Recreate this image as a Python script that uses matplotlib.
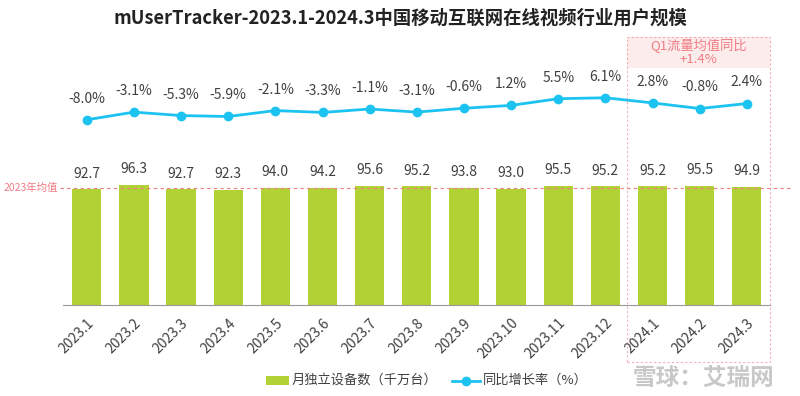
import numpy as np
import matplotlib
matplotlib.use("Agg")
import matplotlib.pyplot as plt
from matplotlib.patches import Rectangle

plt.rcParams['font.family'] = ['Noto Sans CJK SC', 'DejaVu Sans']

months = ['2023.1', '2023.2', '2023.3', '2023.4', '2023.5', '2023.6', '2023.7', '2023.8',
          '2023.9', '2023.10', '2023.11', '2023.12', '2024.1', '2024.2', '2024.3']
devices = [92.7, 96.3, 92.7, 92.3, 94.0, 94.2, 95.6, 95.2, 93.8, 93.0, 95.5, 95.2, 95.2, 95.5, 94.9]
growth = [-8.0, -3.1, -5.3, -5.9, -2.1, -3.3, -1.1, -3.1, -0.6, 1.2, 5.5, 6.1, 2.8, -0.8, 2.4]
avg_2023 = 94.2

green = '#B1D135'
cyan = '#1DC3F0'
pink = '#F07C84'
grey = '#404040'

fig = plt.figure(figsize=(8, 3.96), dpi=100)
ax = fig.add_axes([0.079, 0.23, 0.884, 0.695])
x = np.arange(len(months))

ax.bar(x, devices, width=0.62, color=green, zorder=2)
for i, v in enumerate(devices):
    ax.text(i, v + 7, f'{v:.1f}', ha='center', va='bottom', fontsize=10, color=grey)

ax.set_xlim(-0.5, 14.5)
ax.set_ylim(0, 221)

# 2023 average reference line, from left margin to right edge
yfig = ax.transData.transform((0, avg_2023))[1] / fig.bbox.height
fig.lines.append(plt.Line2D([0.075, 0.99], [yfig, yfig], transform=fig.transFigure,
                            color=pink, lw=0.8, ls=(0, (3, 3)), zorder=1))
fig.text(0.072, yfig, '2023年均值', ha='right', va='center', fontsize=7.5, color=pink)

for s in ['top', 'right', 'left']:
    ax.spines[s].set_visible(False)
ax.spines['bottom'].set_color('#999999')
ax.set_yticks([])
ax.set_xticks(x)
ax.set_xticklabels(months, rotation=45, ha='right', rotation_mode='anchor',
                   fontsize=10, color=grey)
ax.tick_params(axis='x', length=0, pad=8)

ax2 = ax.twinx()
ax2.plot(x, growth, color=cyan, lw=2, marker='o', ms=6, zorder=3)
for i, v in enumerate(growth):
    ax2.text(i, v + 9, f'{v:.1f}%', ha='center', va='bottom', fontsize=10, color=grey)
ax2.set_ylim(-126.6, 49.7)
ax2.axis('off')

# Q1 highlight box
fig.patches.append(Rectangle((0.784, 0.085), 0.179, 0.822, transform=fig.transFigure,
                             fill=False, ec=pink, lw=0.8, ls=(0, (2, 2)), alpha=0.6))
fig.patches.append(Rectangle((0.784, 0.828), 0.179, 0.079, transform=fig.transFigure,
                             fc='#FDECEC', ec='none', zorder=0))
fig.text(0.8735, 0.867, 'Q1流量均值同比\n+1.4%', ha='center', va='center',
         fontsize=9.5, color=pink, linespacing=1.05)

fig.text(0.5, 0.955, 'mUserTracker-2023.1-2024.3中国移动互联网在线视频行业用户规模',
         ha='center', va='center', fontsize=13.2, fontweight='bold', color='#222222')

# legend
fig.patches.append(Rectangle((0.333, 0.028), 0.028, 0.022, transform=fig.transFigure,
                             fc=green, ec='none'))
fig.text(0.365, 0.039, '月独立设备数（千万台）', ha='left', va='center', fontsize=9.5, color=grey)
fig.lines.append(plt.Line2D([0.565, 0.6], [0.039, 0.039], transform=fig.transFigure,
                            color=cyan, lw=2))
fig.lines.append(plt.Line2D([0.5825], [0.039], transform=fig.transFigure,
                            color=cyan, marker='o', ms=6))
fig.text(0.603, 0.039, '同比增长率（%）', ha='left', va='center', fontsize=9.5, color=grey)

fig.text(0.88, 0.045, '雪球：艾瑞网', ha='center', va='center', fontsize=17,
         fontweight='bold', color='#BBBBBB', alpha=0.8)

fig.savefig('out.png', dpi=100, facecolor='white')
